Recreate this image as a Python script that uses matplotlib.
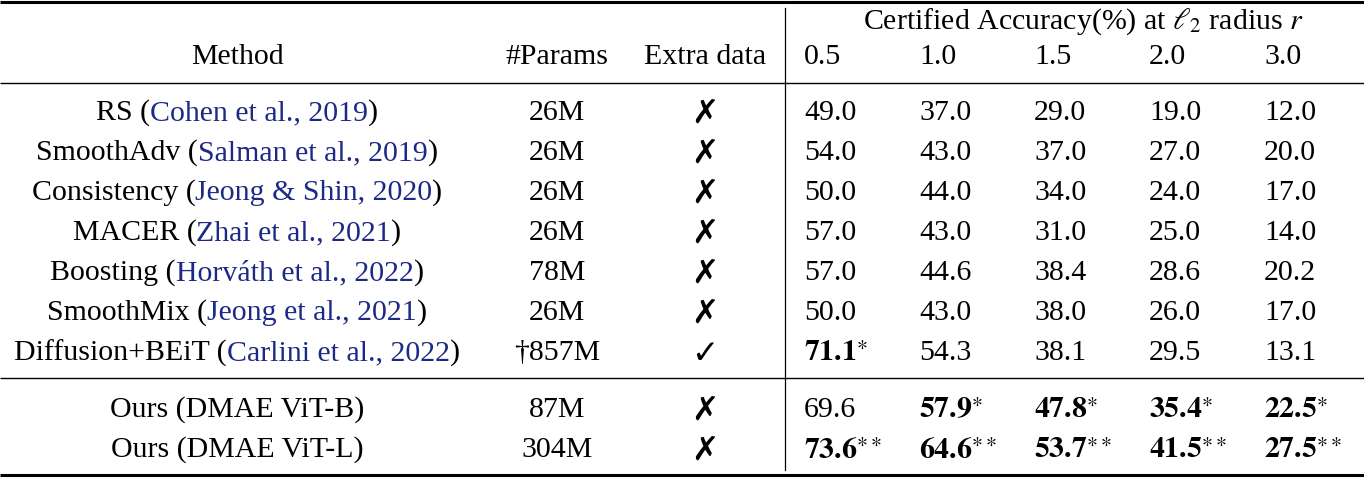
import matplotlib
matplotlib.use('Agg')
import matplotlib.pyplot as plt

plt.rcParams['mathtext.fontset'] = 'stix'
plt.rcParams['font.family'] = ['Liberation Serif', 'DejaVu Sans']

methods = ["RS", "SmoothAdv", "Consistency", "MACER", "Boosting", "SmoothMix", "Diffusion+BEiT",
           "Ours (DMAE ViT-B)", "Ours (DMAE ViT-L)"]
cites = ["Cohen et al., 2019", "Salman et al., 2019", "Jeong & Shin, 2020", "Zhai et al., 2021",
         "Horváth et al., 2022", "Jeong et al., 2021", "Carlini et al., 2022", None, None]
params = ["26M", "26M", "26M", "26M", "78M", "26M", "†857M", "87M", "304M"]
extra = ["✗", "✗", "✗", "✗", "✗", "✗", "✓", "✗", "✗"]
radii = ["0.5", "1.0", "1.5", "2.0", "3.0"]
acc = [
    [49.0, 37.0, 29.0, 19.0, 12.0],
    [54.0, 43.0, 37.0, 27.0, 20.0],
    [50.0, 44.0, 34.0, 24.0, 17.0],
    [57.0, 43.0, 31.0, 25.0, 14.0],
    [57.0, 44.6, 38.4, 28.6, 20.2],
    [50.0, 43.0, 38.0, 26.0, 17.0],
    [71.1, 54.3, 38.1, 29.5, 13.1],
    [69.6, 57.9, 47.8, 35.4, 22.5],
    [73.6, 64.6, 53.7, 41.5, 27.5],
]
marks = [
    [""] * 5, [""] * 5, [""] * 5, [""] * 5, [""] * 5, [""] * 5,
    ["*", "", "", "", ""],
    ["", "*", "*", "*", "*"],
    ["**", "**", "**", "**", "**"],
]

W, H = 1364, 478
fig = plt.figure(figsize=(W / 100, H / 100), dpi=100)
ax = fig.add_axes([0, 0, 1, 1])
ax.set_xlim(0, W)
ax.set_ylim(H, 0)
ax.axis('off')
FS = 21.5
BLUE = '#1c2a85'

def hline(y, lw):
    ax.plot([0, W], [y, y], color='black', lw=lw, solid_capstyle='butt')

hline(1.5, 2.2)
hline(83, 1.0)
hline(378, 1.0)
hline(475, 2.2)
for y0, y1 in [(8, 82), (84, 377), (379, 470)]:
    ax.plot([785, 785], [y0, y1], color='black', lw=0.9)

ax.text(1083, 22, r'Certified Accuracy(%) at $\ell_2$ radius $r$', fontsize=FS, ha='center', va='center')
ax.text(237, 57, 'Method', fontsize=FS, ha='center', va='center')
ax.text(557, 57, '#Params', fontsize=FS, ha='center', va='center')
ax.text(705, 57, 'Extra data', fontsize=FS, ha='center', va='center')
colx = [804, 919, 1034, 1149, 1264]
for x, r in zip(colx, radii):
    ax.text(x, 57, r, fontsize=FS, ha='left', va='center')

rows_y = [113, 153, 193, 233, 273, 313, 353, 410, 450]
fig.canvas.draw()
rend = fig.canvas.get_renderer()

def width(t):
    return t.get_window_extent(rend).width

for i, y in enumerate(rows_y):
    if cites[i] is None:
        ax.text(237, y, methods[i], fontsize=FS, ha='center', va='center')
    else:
        pieces = [(methods[i] + ' (', 'black'), (cites[i], BLUE), (')', 'black')]
        ts = [ax.text(0, y, p, fontsize=FS, ha='left', va='center', color=c) for p, c in pieces]
        ws = [width(t) for t in ts]
        x = 237 - sum(ws) / 2
        for t, w in zip(ts, ws):
            t.set_x(x)
            x += w
    ax.text(557, y, params[i], fontsize=FS, ha='center', va='center')
    ax.text(705, y, extra[i], fontsize=FS + 2, ha='center', va='center',
            family=['DejaVu Sans'])
    for j, x in enumerate(colx):
        m = marks[i][j]
        if m:
            s = r'$\mathbf{%.1f}^{%s}$' % (acc[i][j], r'\ast' * len(m))
            ax.text(x, y + 1, s, fontsize=FS, ha='left', va='center')
        else:
            ax.text(x, y, '%.1f' % acc[i][j], fontsize=FS, ha='left', va='center')

fig.savefig('out.png', dpi=100)
